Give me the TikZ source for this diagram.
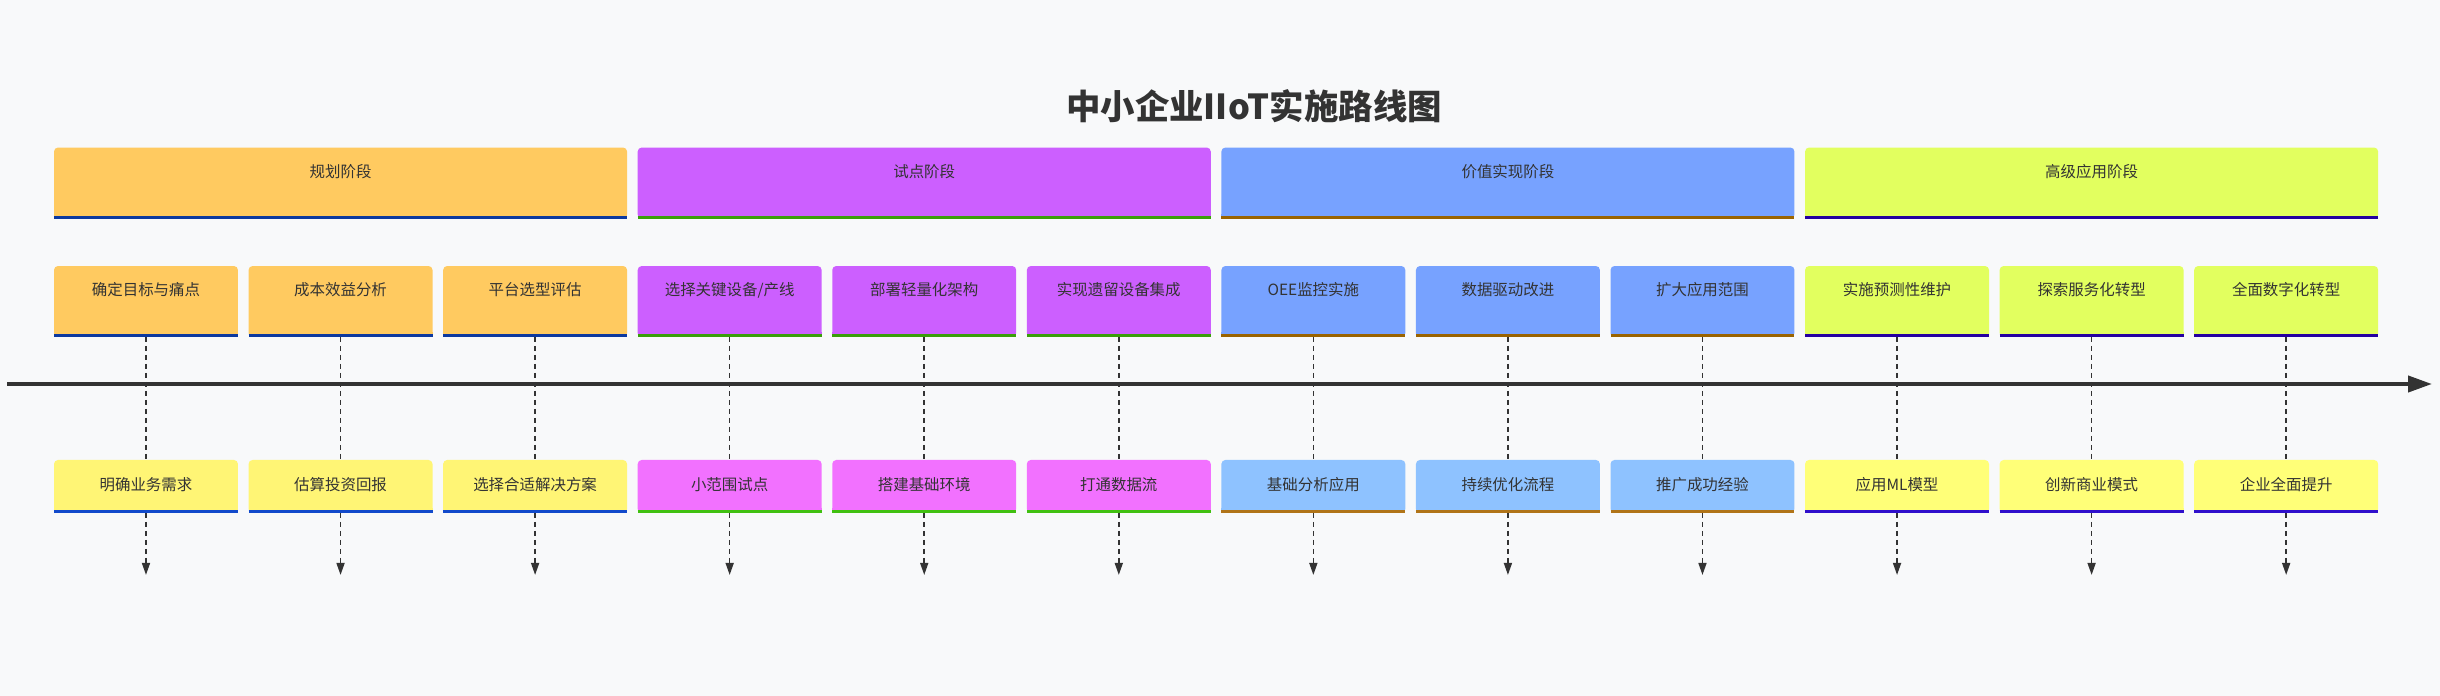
\documentclass[tikz,border=0pt]{standalone}
\usepackage{fontspec}
\setmainfont{Noto Sans CJK SC}
\usepackage{xcolor}
\usetikzlibrary{positioning,arrows.meta}

\definecolor{bg}{HTML}{F8F9FA}
\definecolor{ink}{HTML}{333333}
\definecolor{c1top}{HTML}{FFCA60}
\definecolor{c1edge}{HTML}{0C399F}
\definecolor{c1low}{HTML}{FFF575}
\definecolor{c1lowedge}{HTML}{124ACB}
\definecolor{c2top}{HTML}{CC5FFF}
\definecolor{c2edge}{HTML}{3A9E0A}
\definecolor{c2low}{HTML}{F271FF}
\definecolor{c2lowedge}{HTML}{40C010}
\definecolor{c3top}{HTML}{77A2FF}
\definecolor{c3edge}{HTML}{9A6300}
\definecolor{c3low}{HTML}{8EC2FF}
\definecolor{c3lowedge}{HTML}{B07418}
\definecolor{c4top}{HTML}{E2FF5F}
\definecolor{c4edge}{HTML}{2400A0}
\definecolor{c4low}{HTML}{FFFF78}
\definecolor{c4lowedge}{HTML}{3010CC}

% square bottom corners and coloured base line of a box
\newcommand{\boxbase}[3]{%
  \fill[fill=#2] (#1.south west) rectangle ([yshift=0.1cm]#1.south east);
  \draw[draw=#3, line width=0.06cm] ([yshift=0.03cm]#1.south west) -- ([yshift=0.03cm]#1.south east);}

\begin{document}
\begin{tikzpicture}[
    x=0.02cm, y=-0.02cm,
    node distance=0.212cm,
    topbox/.style={rectangle, fill=#1, rounded corners=2.3pt, minimum width=3.68cm, inner xsep=0pt, inner ysep=0pt, outer sep=0pt, text height=0.59cm, text depth=0.83cm, text=ink, font=\fontsize{8.8pt}{10pt}\selectfont},
    phasebox/.style={topbox=#1, minimum width=11.464cm},
    lowbox/.style={topbox=#1, text height=0.62cm, text depth=0.44cm},
    timeline/.style={draw=ink, line width=0.08cm, -{Triangle[length=0.48cm,width=0.32cm]}},
    drop/.style={draw=ink, line width=0.032cm, dash pattern=on 0.1cm off 0.08cm},
    droparrow/.style={drop, -{Triangle[length=0.24cm,width=0.16cm]}}
]
    \path[use as bounding box, fill=bg] (0,0) rectangle (2440,696);

    % Title
    \node[font=\fontsize{19.6pt}{22pt}\selectfont\bfseries, text=ink] (title) at (1254,106) {中小企业IIoT实施路线图};

    % Tasks
    \node[topbox=c1top, anchor=north west] (t1) at (54,266) {确定目标与痛点};
    \node[topbox=c1top, right=of t1] (t2) {成本效益分析};
    \node[topbox=c1top, right=of t2] (t3) {平台选型评估};
    \node[topbox=c2top, right=of t3] (t4) {选择关键设备/产线};
    \node[topbox=c2top, right=of t4] (t5) {部署轻量化架构};
    \node[topbox=c2top, right=of t5] (t6) {实现遗留设备集成};
    \node[topbox=c3top, right=of t6] (t7) {OEE监控实施};
    \node[topbox=c3top, right=of t7] (t8) {数据驱动改进};
    \node[topbox=c3top, right=of t8] (t9) {扩大应用范围};
    \node[topbox=c4top, right=of t9] (t10) {实施预测性维护};
    \node[topbox=c4top, right=of t10] (t11) {探索服务化转型};
    \node[topbox=c4top, right=of t11] (t12) {全面数字化转型};

    % Phases
    \node[phasebox=c1top, above=0.95cm of t2] (ph1) {规划阶段};
    \node[phasebox=c2top, above=0.95cm of t5] (ph2) {试点阶段};
    \node[phasebox=c3top, above=0.95cm of t8] (ph3) {价值实现阶段};
    \node[phasebox=c4top, above=0.95cm of t11] (ph4) {高级应用阶段};

    % Results
    \node[lowbox=c1low, below=2.46cm of t1] (r1) {明确业务需求};
    \node[lowbox=c1low, below=2.46cm of t2] (r2) {估算投资回报};
    \node[lowbox=c1low, below=2.46cm of t3] (r3) {选择合适解决方案};
    \node[lowbox=c2low, below=2.46cm of t4] (r4) {小范围试点};
    \node[lowbox=c2low, below=2.46cm of t5] (r5) {搭建基础环境};
    \node[lowbox=c2low, below=2.46cm of t6] (r6) {打通数据流};
    \node[lowbox=c3low, below=2.46cm of t7] (r7) {基础分析应用};
    \node[lowbox=c3low, below=2.46cm of t8] (r8) {持续优化流程};
    \node[lowbox=c3low, below=2.46cm of t9] (r9) {推广成功经验};
    \node[lowbox=c4low, below=2.46cm of t10] (r10) {应用ML模型};
    \node[lowbox=c4low, below=2.46cm of t11] (r11) {创新商业模式};
    \node[lowbox=c4low, below=2.46cm of t12] (r12) {企业全面提升};

    % Base lines
    \foreach \p/\ft/\et/\fl/\el in {1/c1top/c1edge/c1low/c1lowedge, 2/c2top/c2edge/c2low/c2lowedge,
        3/c3top/c3edge/c3low/c3lowedge, 4/c4top/c4edge/c4low/c4lowedge}{
        \boxbase{ph\p}{\ft}{\et}
        \foreach \j in {1,2,3}{
            \pgfmathtruncatemacro{\k}{3*\p-3+\j}
            \boxbase{t\k}{\ft}{\et}
            \boxbase{r\k}{\fl}{\el}
        }
    }

    % Timeline
    \coordinate (tl0) at (7,384);
    \coordinate (tl1) at (2432,384);
    \draw[timeline] (tl0) -- (tl1);

    % Dashed drops
    \foreach \k in {1,...,12}{
        \coordinate[below=1.24cm of r\k] (end\k);
        \draw[drop] (t\k.south) -- (r\k.north);
        \draw[droparrow] (r\k.south) -- (end\k);
    }
\end{tikzpicture}
\end{document}
